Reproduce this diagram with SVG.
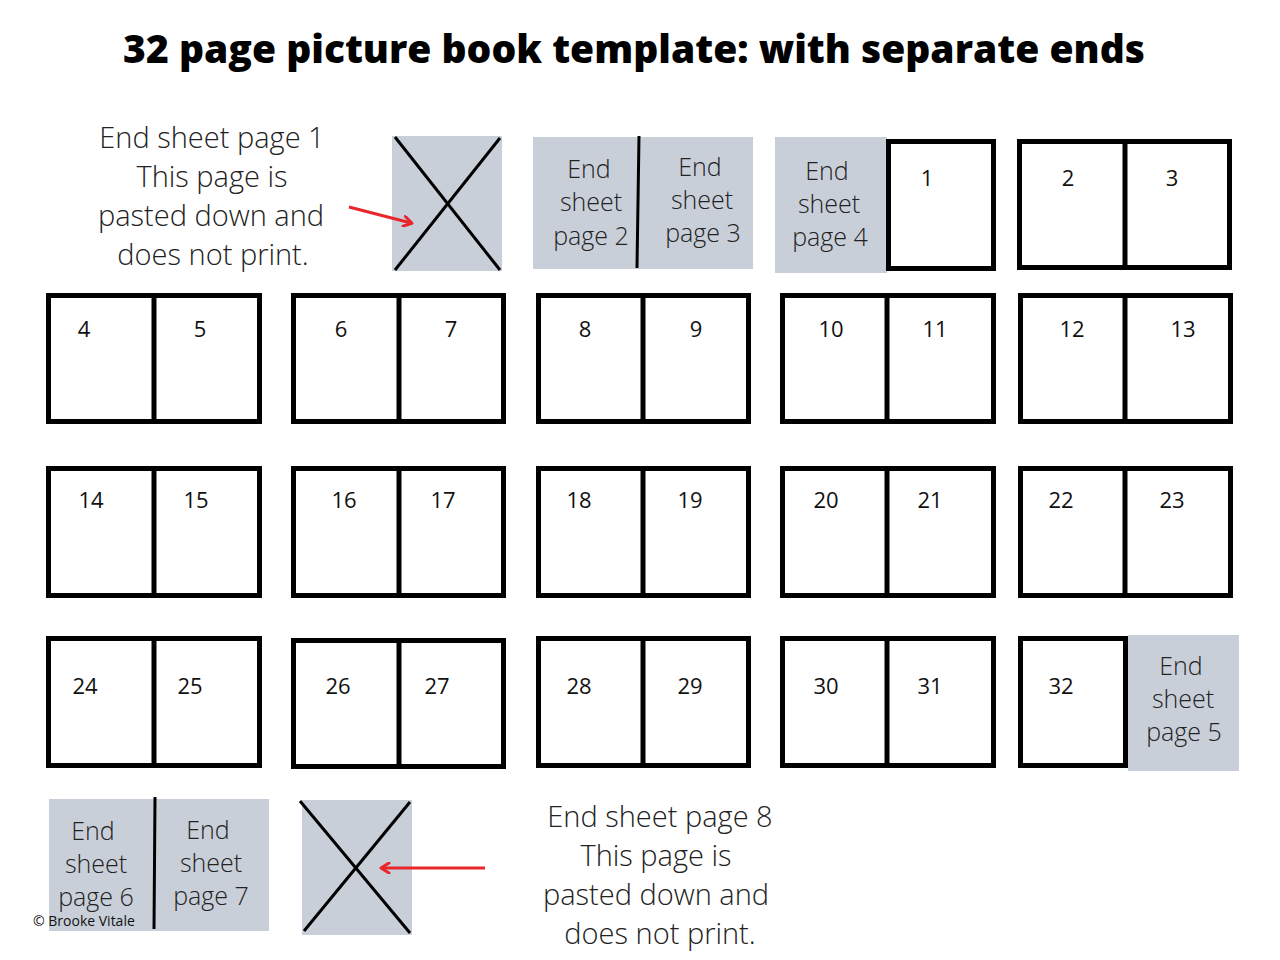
<svg xmlns="http://www.w3.org/2000/svg" width="1280" height="960" viewBox="0 0 1280 960">
<defs>
<style>
.title{font-family:"Open Sans","Liberation Sans",sans-serif;font-weight:800;font-size:39px;fill:#000;text-anchor:middle}
.note{font-family:"Open Sans","Liberation Sans",sans-serif;font-weight:300;font-size:29px;fill:#222;text-anchor:middle}
.lab{font-family:"Open Sans","Liberation Sans",sans-serif;font-weight:300;font-size:25px;fill:#222;text-anchor:middle}
.num{font-family:"Open Sans","Liberation Sans",sans-serif;font-weight:400;font-size:22px;fill:#111;text-anchor:middle}
.copy{font-family:"Open Sans","Liberation Sans",sans-serif;font-weight:400;font-size:14px;fill:#111}
.pg{fill:#fff;stroke:#000;stroke-width:5}
.div{stroke:#000;stroke-width:5}
.gray{fill:#c9cfd9}
.x{stroke:#000;stroke-width:3;fill:none}
.arrow{stroke:#e8262b;stroke-width:3;fill:none}
</style>
<marker id="ah" markerWidth="12" markerHeight="12" refX="9" refY="6" orient="auto" markerUnits="userSpaceOnUse">
<path d="M2,1 L10,6 L2,11" fill="none" stroke="#e8262b" stroke-width="3" stroke-linecap="round" stroke-linejoin="round"/>
</marker>
</defs>
<rect width="1280" height="960" fill="#fff"/>
<text class="title" x="634" y="63">32 page picture book template: with separate ends</text>

<g id="note1">
<text class="note" x="212" y="148">End sheet page 1</text>
<text class="note" x="212" y="187">This page is</text>
<text class="note" x="211" y="226">pasted down and</text>
<text class="note" x="213" y="265">does not print.</text>
</g>
<g id="endsheet1">
<rect class="gray" x="392" y="136" width="110" height="135"/>
<line class="x" x1="395" y1="137" x2="500" y2="270"/>
<line class="x" x1="500" y1="138" x2="395" y2="270"/>
</g>
<g id="endsheet2-3">
<rect class="gray" x="533" y="137" width="220" height="132"/>
<line class="div" x1="639" y1="136" x2="637" y2="268" style="stroke-width:3"/>
<text class="lab" x="589" y="178">End</text>
<text class="lab" x="591" y="211">sheet</text>
<text class="lab" x="591" y="245">page 2</text>
<text class="lab" x="700" y="176">End</text>
<text class="lab" x="702" y="209">sheet</text>
<text class="lab" x="703" y="242">page 3</text>
</g>
<g id="endsheet4-page1">
<rect class="gray" x="775" y="137" width="112" height="136"/>
<text class="lab" x="827" y="180">End</text>
<text class="lab" x="829" y="213">sheet</text>
<text class="lab" x="830" y="246">page 4</text>
<rect class="pg" x="888.5" y="141.5" width="105" height="127"/>
<text class="num" x="927" y="186">1</text>
</g>
<g id="spread2-3">
<rect class="pg" x="1019.5" y="141.5" width="210" height="126"/>
<line class="div" x1="1125" y1="141" x2="1125" y2="268"/>
<text class="num" x="1068" y="186">2</text>
<text class="num" x="1172" y="186">3</text>
</g>

<g id="spread4-5"><rect class="pg" x="48.5" y="295.5" width="211" height="126"/><line class="div" x1="154" y1="295" x2="154" y2="422"/><text class="num" x="84" y="337">4</text><text class="num" x="200" y="337">5</text></g>
<g id="spread6-7"><rect class="pg" x="293.5" y="295.5" width="210" height="126"/><line class="div" x1="399" y1="295" x2="399" y2="422"/><text class="num" x="341" y="337">6</text><text class="num" x="451" y="337">7</text></g>
<g id="spread8-9"><rect class="pg" x="538.5" y="295.5" width="210" height="126"/><line class="div" x1="643" y1="295" x2="643" y2="422"/><text class="num" x="585" y="337">8</text><text class="num" x="696" y="337">9</text></g>
<g id="spread10-11"><rect class="pg" x="782.5" y="295.5" width="211" height="126"/><line class="div" x1="887" y1="295" x2="887" y2="422"/><text class="num" x="831" y="337">10</text><text class="num" x="935" y="337">11</text></g>
<g id="spread12-13"><rect class="pg" x="1020.5" y="295.5" width="210" height="126"/><line class="div" x1="1125" y1="295" x2="1125" y2="422"/><text class="num" x="1072" y="337">12</text><text class="num" x="1183" y="337">13</text></g>

<g id="spread14-15"><rect class="pg" x="48.5" y="468.5" width="211" height="127"/><line class="div" x1="154" y1="468" x2="154" y2="596"/><text class="num" x="91" y="508">14</text><text class="num" x="196" y="508">15</text></g>
<g id="spread16-17"><rect class="pg" x="293.5" y="468.5" width="210" height="127"/><line class="div" x1="399" y1="468" x2="399" y2="596"/><text class="num" x="344" y="508">16</text><text class="num" x="443" y="508">17</text></g>
<g id="spread18-19"><rect class="pg" x="538.5" y="468.5" width="210" height="127"/><line class="div" x1="643" y1="468" x2="643" y2="596"/><text class="num" x="579" y="508">18</text><text class="num" x="690" y="508">19</text></g>
<g id="spread20-21"><rect class="pg" x="782.5" y="468.5" width="211" height="127"/><line class="div" x1="887" y1="468" x2="887" y2="596"/><text class="num" x="826" y="508">20</text><text class="num" x="930" y="508">21</text></g>
<g id="spread22-23"><rect class="pg" x="1020.5" y="468.5" width="210" height="127"/><line class="div" x1="1125" y1="468" x2="1125" y2="596"/><text class="num" x="1061" y="508">22</text><text class="num" x="1172" y="508">23</text></g>

<g id="spread24-25"><rect class="pg" x="48.5" y="638.5" width="211" height="127"/><line class="div" x1="154" y1="638" x2="154" y2="766"/><text class="num" x="85" y="694">24</text><text class="num" x="190" y="694">25</text></g>
<g id="spread26-27"><rect class="pg" x="293.5" y="640.5" width="210" height="126"/><line class="div" x1="399" y1="640" x2="399" y2="767"/><text class="num" x="338" y="694">26</text><text class="num" x="437" y="694">27</text></g>
<g id="spread28-29"><rect class="pg" x="538.5" y="638.5" width="210" height="127"/><line class="div" x1="643" y1="638" x2="643" y2="766"/><text class="num" x="579" y="694">28</text><text class="num" x="690" y="694">29</text></g>
<g id="spread30-31"><rect class="pg" x="782.5" y="638.5" width="211" height="127"/><line class="div" x1="887" y1="638" x2="887" y2="766"/><text class="num" x="826" y="694">30</text><text class="num" x="930" y="694">31</text></g>
<g id="page32-endsheet5">
<rect class="gray" x="1128" y="635" width="111" height="136"/>
<rect class="pg" x="1020.5" y="638.5" width="105" height="127"/>
<text class="num" x="1061" y="694">32</text>
<text class="lab" x="1181" y="675">End</text>
<text class="lab" x="1183" y="708">sheet</text>
<text class="lab" x="1184" y="741">page 5</text>
</g>

<g id="endsheet6-7">
<rect class="gray" x="49" y="799" width="220" height="132"/>
<line class="div" x1="155" y1="797" x2="154" y2="929" style="stroke-width:3"/>
<text class="lab" x="93" y="840">End</text>
<text class="lab" x="96" y="873">sheet</text>
<text class="lab" x="96" y="906">page 6</text>
<text class="lab" x="208" y="839">End</text>
<text class="lab" x="211" y="872">sheet</text>
<text class="lab" x="211" y="905">page 7</text>
<text class="copy" x="33" y="926">© Brooke Vitale</text>
</g>
<g id="endsheet8">
<rect class="gray" x="302" y="800" width="110" height="135"/>
<line class="x" x1="300" y1="801" x2="410" y2="933"/>
<line class="x" x1="410" y1="802" x2="304" y2="931"/>
</g>
<g id="note8">
<text class="note" x="660" y="827">End sheet page 8</text>
<text class="note" x="656" y="866">This page is</text>
<text class="note" x="656" y="905">pasted down and</text>
<text class="note" x="660" y="944">does not print.</text>
</g>

<g id="connectors">
<line class="arrow" x1="349" y1="207" x2="411" y2="223" marker-end="url(#ah)"/>
<line class="arrow" x1="485" y1="868" x2="382" y2="868" marker-end="url(#ah)"/>
</g>
</svg>
